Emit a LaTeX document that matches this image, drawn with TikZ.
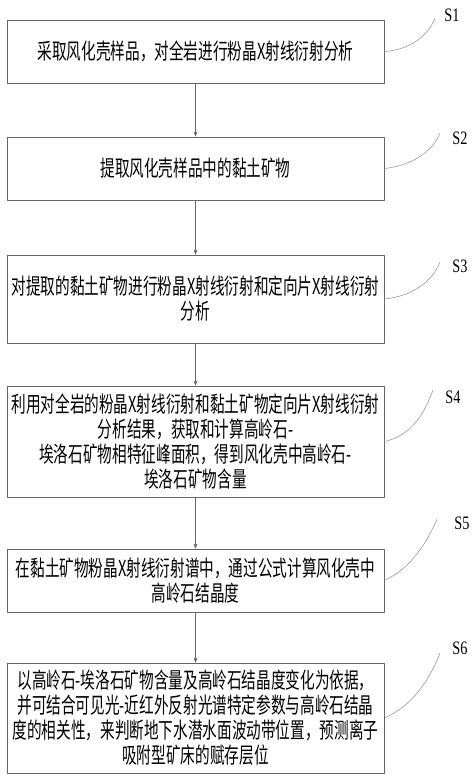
\documentclass[tikz,border=0pt]{standalone}
\usepackage{fontspec}
\usetikzlibrary{arrows.meta}
\newfontfamily\cjk[FakeStretch=0.665]{Noto Sans CJK SC}
\newfontfamily\labfont[FakeStretch=0.75]{Liberation Serif}
\tikzset{
	stepbox/.style={draw=black!60, line width=0.8pt, minimum width=377pt, inner xsep=1pt, inner ysep=2pt, align=center, font=\cjk\fontsize{22}{25}\selectfont},
	steplabel/.style={inner sep=0pt, font=\labfont\fontsize{19}{19}\selectfont},
	leader/.style={draw=black!45, line width=0.5pt}
}
\begin{document}
\begin{tikzpicture}[x=1pt, y=-1pt, line join=round, >={Stealth[length=5pt,width=4pt]}]
	\useasboundingbox (0,0) rectangle (474,780);
	
	\node[stepbox, minimum height=63pt] (b1) at (195.5,51.5) {采取风化壳样品，对全岩进行粉晶X射线衍射分析};
	\node[stepbox, minimum height=63pt] (b2) at (195.5,168.5) {提取风化壳样品中的黏土矿物};
	\node[stepbox, minimum height=88pt] (b3) at (195.5,299) {对提取的黏土矿物进行粉晶X射线衍射和定向片X射线衍射\\分析};
	\node[stepbox, minimum height=111pt] (b4) at (195.5,441.5) {利用对全岩的粉晶X射线衍射和黏土矿物定向片X射线衍射\\分析结果，获取和计算高岭石-\\埃洛石矿物相特征峰面积，得到风化壳中高岭石-\\埃洛石矿物含量};
	\node[stepbox, minimum height=63pt] (b5) at (195.5,580.5) {在黏土矿物粉晶X射线衍射谱中，通过公式计算风化壳中\\高岭石结晶度};
	\node[stepbox, minimum height=110pt] (b6) at (195.5,718) {以高岭石-埃洛石矿物含量及高岭石结晶度变化为依据，\\并可结合可见光-近红外反射光谱特定参数与高岭石结晶\\度的相关性，来判断地下水潜水面波动带位置，预测离子\\吸附型矿床的赋存层位};
	
	\draw[->, black!60] (b1) -- (b2);
	\draw[->, black!60] (b2) -- (b3);
	\draw[->, black!60] (b3) -- (b4);
	\draw[->, black!60] (b4) -- (b5);
	\draw[->, black!60] (b5) -- (b6);
	
	% step labels
	\node[steplabel] (l1) at (452,15) {S1};
	\node[steplabel] (l2) at (460,138) {S2};
	\node[steplabel] (l3) at (460,266) {S3};
	\node[steplabel] (l4) at (453,397) {S4};
	\node[steplabel] (l5) at (462,523) {S5};
	\node[steplabel] (l6) at (460,648) {S6};
	
	\coordinate (e1) at (435,18);
	\coordinate (e2) at (440,133);
	\coordinate (e3) at (440,262);
	\coordinate (e4) at (433,390);
	\coordinate (e5) at (437,519);
	\coordinate (e6) at (440,653);
	
	\draw[leader] (b1.east) .. controls +(28,-2) and +(-6,16) .. (e1);
	\draw[leader] (b2.east) .. controls +(30,-3) and +(-6,16) .. (e2);
	\draw[leader] (b3.east) .. controls +(30,-3) and +(-7,18) .. (e3);
	\draw[leader] (b4.east) .. controls +(28,-6) and +(-8,22) .. (e4);
	\draw[leader] (b5.east) .. controls +(26,-12) and +(-10,24) .. (e5);
	\draw[leader] (b6.east) .. controls +(28,-12) and +(-10,26) .. (e6);
\end{tikzpicture}
\end{document}
